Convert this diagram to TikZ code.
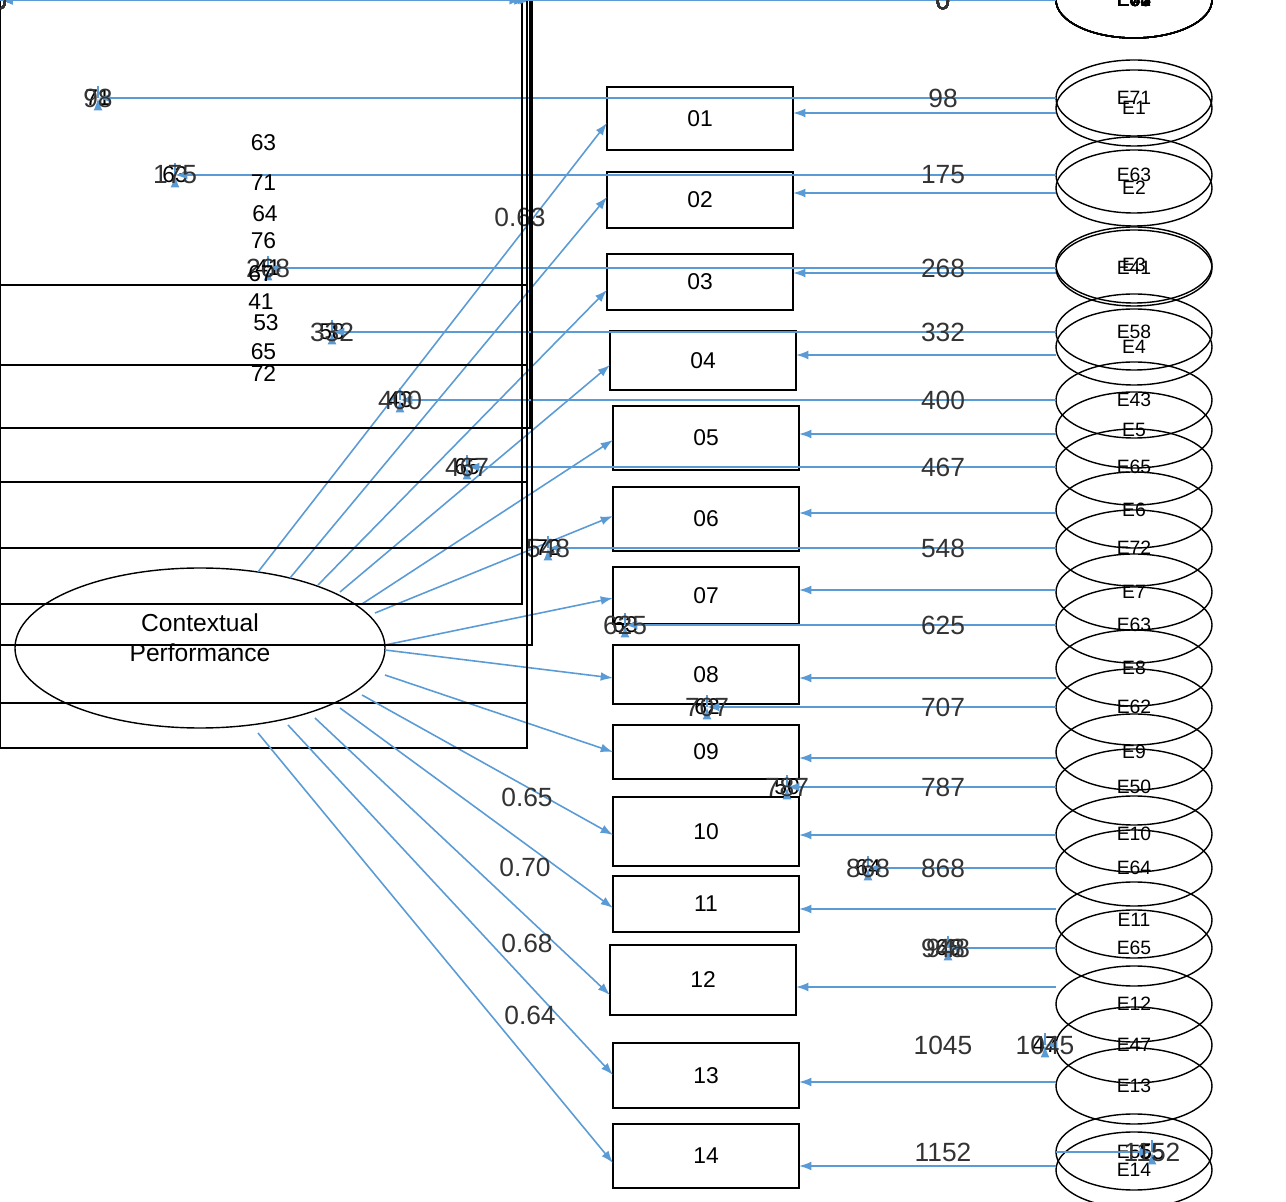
\documentclass[tikz,border=0pt]{standalone}
\usepackage{fontspec}
\setmainfont{Liberation Sans}
\usetikzlibrary{arrows.meta}
\begin{document}
\begin{tikzpicture}[x=0.02cm,y=-0.02cm,
 arr/.style={draw={rgb,255:red,91;green,155;blue,213},line width=0.9pt,-{Latex[length=7pt,width=5pt]}},
 lab/.style={font=\fontsize{15}{15}\selectfont,text=black!80}]
\useasboundingbox (0,0) rectangle (1286,1202);
\draw[line width=0.8pt] (200,648) ellipse [x radius=185,y radius=80];
\node[align=center,font=\fontsize{14}{17}\selectfont] (cp) at (200,638) {Contextual\\Performance};
\foreach \n/\l/\t/\r/\b/\ey/\ly/\sx/\sy/\ecy/\ll/\llx/\lly/\rl/\rly in {
01/607/87/793/150/123/113/258/572/108/0.63/520/217/0,71/98,
02/607/172/793/228/197/193/290/578/188/0,63/527/285/0,63/175,
03/607/254/793/310/290/273/318/585/265/0,71/527/365/0,41/268,
04/610/331/796/390/365/355/340/592/347/0,64/530/428/0,58/332,
05/613/406/799/470/440/434/362/604/430/0,76/527/482/0,43/400,
06/613/487/799/551/516/513/375/613/510/0,67/522/548/0,65/467,
07/613/567/799/624/598/590/385/645/592/0,41/522/604/0,72/548,
08/613/645/799/704/678/678/385/650/668/0,53/532/645/0,63/625,
09/613/725/799/779/752/758/385/675/752/0,65/527/703/0,62/707,
10/613/797/799/866/835/835/362/695/834/0,72/527/748/0,50/787,
11/613/876/799/932/908/909/340/708/920/0.65/527/797/0,64/868,
12/610/945/796/1015/995/987/315/718/1004/0.70/525/867/0,65/948,
13/613/1043/799/1108/1075/1082/288/725/1086/0.68/527/943/0,47/1045,
14/613/1124/799/1188/1163/1166/258/733/1170/0.64/530/1015/0,55/1152}{
 \draw[line width=0.8pt] (\l,\t) rectangle (\r,\b);
 \node[font=\fontsize{13}{13}\selectfont] (b\n) at ({(\l+\r)/2},{(\t+\b)/2}) {\n};
 \draw[line width=0.8pt] (1134,\ecy) ellipse [x radius=78,y radius=38];
 \node[font=\fontsize{11}{11}\selectfont] (e\n) at (1134,\ecy) {E\the\numexpr\n\relax};
 \coordinate (s\n) at (\sx,\sy);
 \coordinate (t\n) at (\l,\ey);
 \coordinate (ea\n) at (1056,\ly);
 \coordinate (eb\n) at (\r,\ly);
 \draw[arr] (s\n) -- (t\n);
 \draw[arr] (ea\n) -- (eb\n);
 \node[lab] at (\llx,\lly) {\ll};
 \node[lab] at (943,\rly) {\rl};
}
\end{tikzpicture}
\end{document}
